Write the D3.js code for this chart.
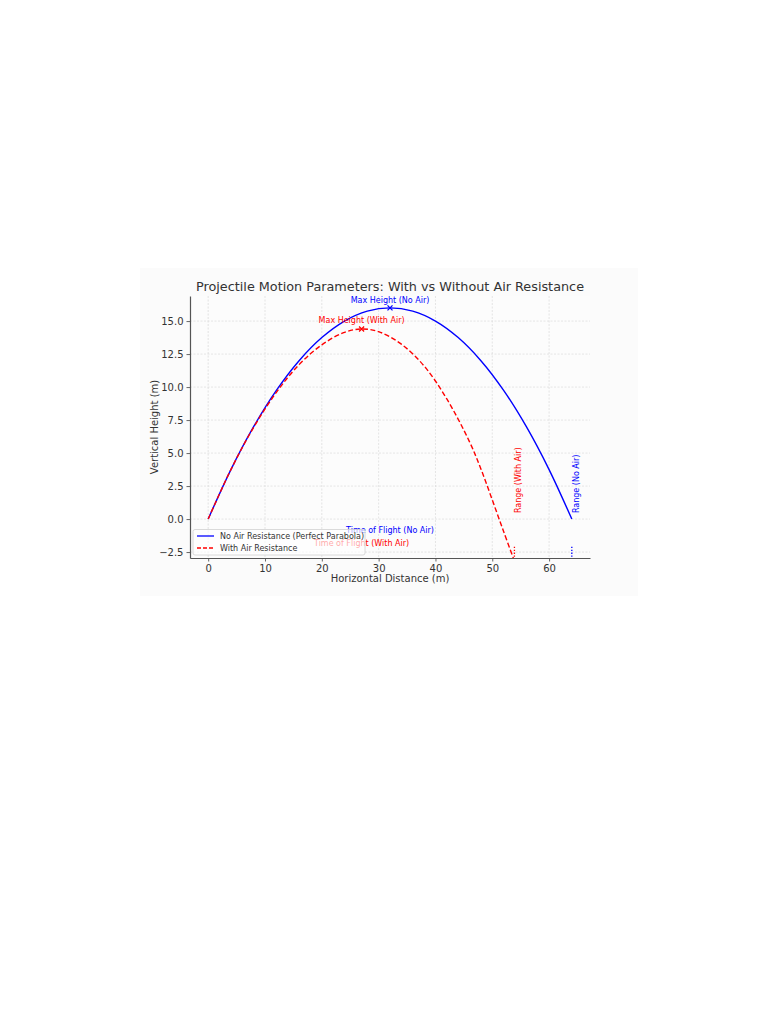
<!DOCTYPE html>
<html>
<head>
<meta charset="utf-8">
<script src="https://cdn.jsdelivr.net/npm/d3@7.9.0/dist/d3.min.js"></script>
<style>
  body { margin: 0; background: #fff; }
  svg { font-family: "DejaVu Sans", sans-serif; }
</style>
</head>
<body>
<svg id="chart" width="768" height="1024"></svg>
<script>
// trajectories (x in m, y in m)
const noAirX = [0, 4, 8, 12, 16, 20, 24, 28, 32, 36, 40, 44, 48, 52, 56, 60, 64];
const noAirY = [0, 3.75, 7, 9.75, 12, 13.75, 15, 15.75, 16, 15.75, 15, 13.75, 12, 9.75, 7, 3.75, 0];
const airX = [0, 4, 8, 12, 16, 20, 24, 27, 30, 34, 38, 42, 46, 48, 50, 52, 54];
const airY = [0, 3.75, 6.95, 9.6, 11.7, 13.2, 14.15, 14.4, 14.2, 13.25, 11.6, 9.1, 5.85, 3.8, 1.45, -0.95, -3.3];

const xTicks = [0, 10, 20, 30, 40, 50, 60];
const yTicks = [-2.5, 0, 2.5, 5, 7.5, 10, 12.5, 15];

const peaks = [
  { x: 32, y: 16, color: 'blue', label: 'Max Height (No Air)', ly: 16.4 },
  { x: 27, y: 14.4, color: 'red', label: 'Max Height (With Air)', ly: 14.85 }
];
const flights = [
  { x: 32, y: -1.05, color: 'blue', label: 'Time of Flight (No Air)' },
  { x: 27, y: -2.05, color: 'red', label: 'Time of Flight (With Air)' }
];
const ranges = [
  { x: 53.9, color: 'red', label: 'Range (With Air)' },
  { x: 64, color: 'blue', label: 'Range (No Air)' }
];

const svg = d3.select('#chart');
const pLeft = 190, pRight = 590, pTop = 296, pBottom = 558;

const x = d3.scaleLinear().domain([-3.2, 67.2]).range([pLeft, pRight]);
const y = d3.scaleLinear().domain([-2.95, 16.9]).range([pBottom, pTop]);

// faint figure background
svg.append('rect').attr('x', 140).attr('y', 268).attr('width', 498).attr('height', 328).attr('fill', '#fbfbfb');
svg.append('rect').attr('x', pLeft).attr('y', pTop).attr('width', pRight - pLeft).attr('height', pBottom - pTop).attr('fill', '#fcfcfc');

svg.append('clipPath').attr('id', 'clip')
  .append('rect').attr('x', pLeft).attr('y', pTop).attr('width', pRight - pLeft).attr('height', pBottom - pTop);

// grid
const grid = svg.append('g').attr('stroke', '#dadada').attr('stroke-width', 0.7).attr('stroke-dasharray', '2,1.5');
xTicks.forEach(t => grid.append('line').attr('x1', x(t)).attr('x2', x(t)).attr('y1', pTop).attr('y2', pBottom));
yTicks.forEach(t => grid.append('line').attr('x1', pLeft).attr('x2', pRight).attr('y1', y(t)).attr('y2', y(t)));

// axes
const fmtY = d => d3.format('.1f')(d).replace('-', '\u2212');
const xAxis = svg.append('g').attr('transform', `translate(0,${pBottom})`)
  .call(d3.axisBottom(x).tickValues(xTicks).tickSize(3.5).tickPadding(3).tickSizeOuter(0));
const yAxis = svg.append('g').attr('transform', `translate(${pLeft},0)`)
  .call(d3.axisLeft(y).tickValues(yTicks).tickFormat(fmtY).tickSize(3.5).tickPadding(3).tickSizeOuter(0));
[xAxis, yAxis].forEach(a => {
  a.select('.domain').attr('stroke', '#555').attr('stroke-width', 1.2);
  a.selectAll('.tick line').attr('stroke', '#555').attr('stroke-width', 0.9);
  a.selectAll('.tick text').attr('fill', '#333').style('font-size', '10px').style('font-family', 'DejaVu Sans');
});

// lines
const plot = svg.append('g').attr('clip-path', 'url(#clip)');
const line = d3.line().curve(d3.curveCatmullRom);
plot.append('path')
  .attr('d', line(noAirX.map((v, i) => [x(v), y(noAirY[i])])))
  .attr('fill', 'none').attr('stroke', 'blue').attr('stroke-width', 1.4);
plot.append('path')
  .attr('d', line(airX.map((v, i) => [x(v), y(airY[i])])))
  .attr('fill', 'none').attr('stroke', 'red').attr('stroke-width', 1.4).attr('stroke-dasharray', '5,2.5');

// range dotted markers
ranges.forEach(r => {
  plot.append('line').attr('x1', x(r.x)).attr('x2', x(r.x)).attr('y1', y(-2.1)).attr('y2', pBottom)
    .attr('stroke', r.color).attr('stroke-width', 1.3).attr('stroke-dasharray', '1.3,1.6');
  svg.append('text')
    .attr('transform', `translate(${x(r.x) + 7},${y(0.45)}) rotate(-90)`)
    .attr('fill', r.color).style('font-size', '8px').text(r.label);
});

// peaks
peaks.forEach(p => {
  const px = x(p.x), py = y(p.y);
  svg.append('path').attr('d', `M${px - 2.5},${py - 2.5}L${px + 2.5},${py + 2.5}M${px - 2.5},${py + 2.5}L${px + 2.5},${py - 2.5}`)
    .attr('stroke', p.color).attr('stroke-width', 1.3);
  svg.append('text').attr('x', px).attr('y', y(p.ly)).attr('text-anchor', 'middle')
    .attr('fill', p.color).style('font-size', '8px').text(p.label);
});

flights.forEach(f => {
  svg.append('text').attr('x', x(f.x)).attr('y', y(f.y)).attr('text-anchor', 'middle')
    .attr('fill', f.color).style('font-size', '8px').text(f.label);
});

// legend
const lg = svg.append('g');
lg.append('rect').attr('x', 193).attr('y', 529.5).attr('width', 172).attr('height', 25.5).attr('rx', 2)
  .attr('fill', 'rgba(255,255,255,0.65)').attr('stroke', '#d0d0d0').attr('stroke-width', 0.8);
const legendItems = [
  { label: 'No Air Resistance (Perfect Parabola)', color: 'blue', dash: null },
  { label: 'With Air Resistance', color: 'red', dash: '4,2' }
];
legendItems.forEach((d, i) => {
  const ly = 536 + i * 12;
  lg.append('line').attr('x1', 197).attr('x2', 214).attr('y1', ly).attr('y2', ly)
    .attr('stroke', d.color).attr('stroke-width', 1.3).attr('stroke-dasharray', d.dash);
  lg.append('text').attr('x', 220).attr('y', ly + 3).attr('fill', '#333').style('font-size', '8px').text(d.label);
});

// titles
svg.append('text').attr('x', (pLeft + pRight) / 2).attr('y', 291).attr('text-anchor', 'middle')
  .attr('fill', '#333').style('font-size', '12.8px').text('Projectile Motion Parameters: With vs Without Air Resistance');
svg.append('text').attr('x', (pLeft + pRight) / 2).attr('y', 582).attr('text-anchor', 'middle')
  .attr('fill', '#333').style('font-size', '10px').text('Horizontal Distance (m)');
svg.append('text').attr('transform', `translate(158,${(pTop + pBottom) / 2}) rotate(-90)`).attr('text-anchor', 'middle')
  .attr('fill', '#333').style('font-size', '10px').text('Vertical Height (m)');
</script>
</body>
</html>
